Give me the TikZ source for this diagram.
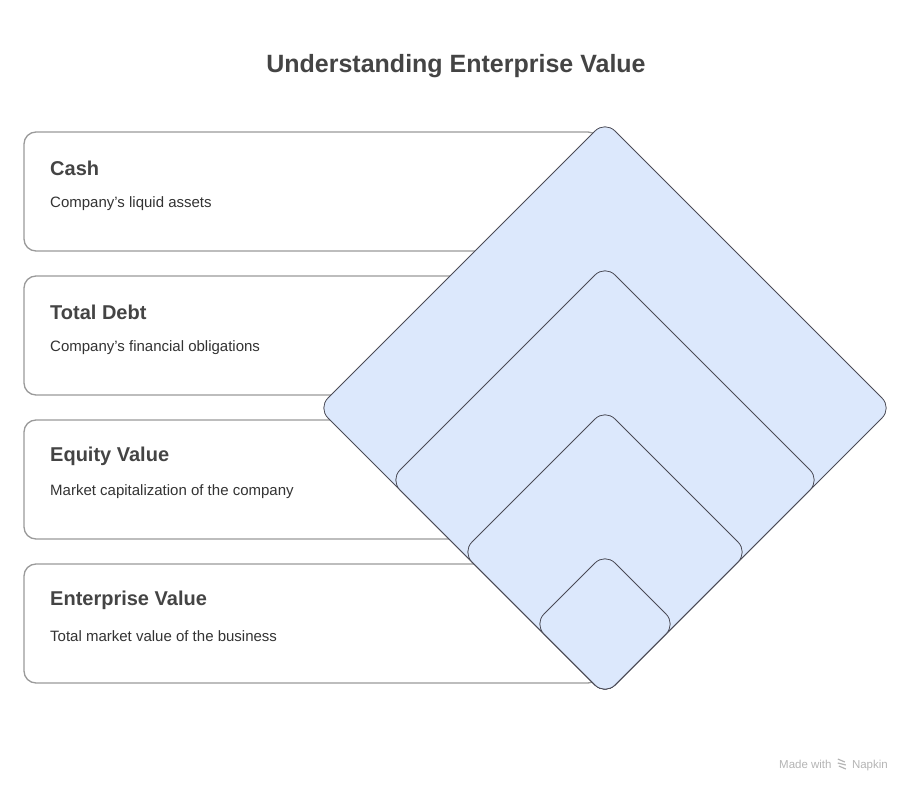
\documentclass[tikz,border=0pt]{standalone}
\usepackage{fontspec}
\setmainfont{Liberation Sans}
\usetikzlibrary{positioning}

\definecolor{inkdark}{HTML}{444444}
\definecolor{inktext}{HTML}{333333}
\definecolor{cardline}{HTML}{9A9A9A}
\definecolor{layerfill}{HTML}{DCE8FC}
\definecolor{layerline}{HTML}{4A4A55}
\definecolor{markgray}{HTML}{B4B4B4}

\tikzset{
  card/.style={draw=cardline, line width=1.3pt, rounded corners=12pt, fill=white,
    minimum width=576pt, minimum height=119pt, inner sep=0pt},
  cardhead/.style={anchor=west, inner sep=0pt, text=inkdark,
    font=\bfseries\fontsize{20}{24}\selectfont},
  carddesc/.style={anchor=west, inner sep=0pt, text=inktext,
    font=\fontsize{15}{18}\selectfont},
  layer/.style={draw=layerline, line width=0.8pt, fill=layerfill, rounded corners=14pt},
  watermark/.style={text=markgray, font=\fontsize{11.5}{13}\selectfont, anchor=base east, inner sep=0pt}
}

\begin{document}
\begin{tikzpicture}[x=1pt, y=-1pt]
                \useasboundingbox (0, 0) rectangle (914, 792);

                % --------
                % Title
                % --------
                \node[text=inkdark, font=\bfseries\fontsize{25}{30}\selectfont] at (456, 66) (title) {Understanding Enterprise Value};

                % --------
                % Cards
                % --------
                \node[card] at (312, 191.5) (cash) {};
                \node[cardhead] at (50, 168) (cashHead) {Cash};
                \node[carddesc] at (50, 204) (cashDesc) {Company's liquid assets};

                \node[card] at (312, 335.5) (debt) {};
                \node[cardhead] at (50, 312) (debtHead) {Total Debt};
                \node[carddesc] at (50, 348) (debtDesc) {Company's financial obligations};

                \node[card] at (312, 479.5) (equity) {};
                \node[cardhead] at (50, 456) (equityHead) {Equity Value};
                \node[carddesc] at (50, 492) (equityDesc) {Market capitalization of the company};

                \node[card] at (312, 623.5) (ev) {};
                \node[cardhead] at (50, 600) (evHead) {Enterprise Value};
                \node[carddesc] at (50, 636) (evDesc) {Total market value of the business};

                % --------
                % Nested layers
                % --------
                \coordinate (base) at (605, 695);

                \draw[layer] ([shift={(143, -143)}]base) -- ([shift={(287, -287)}]base) -- ([shift={(0, -574)}]base)
                    -- ([shift={(-287, -287)}]base) -- (base) -- cycle;
                \draw[layer] ([shift={(107, -107)}]base) -- ([shift={(215, -215)}]base) -- ([shift={(0, -430)}]base)
                    -- ([shift={(-215, -215)}]base) -- (base) -- cycle;
                \draw[layer] ([shift={(71, -71)}]base) -- ([shift={(143, -143)}]base) -- ([shift={(0, -286)}]base)
                    -- ([shift={(-143, -143)}]base) -- (base) -- cycle;
                \draw[layer] ([shift={(35, -35)}]base) -- ([shift={(71, -71)}]base) -- ([shift={(0, -142)}]base)
                    -- ([shift={(-71, -71)}]base) -- (base) -- cycle;

                % Watermark
                \node[watermark] at (888, 768) (napkin) {Napkin};
                \coordinate (napkinIcon) at ([shift={(-10pt, 4pt)}]napkin.base west);
                \draw[markgray, line width=1.2pt] ([shift={(-4,-5)}]napkinIcon) -- ([shift={(3,-2)}]napkinIcon);
                \draw[markgray, line width=1.2pt] ([shift={(-4,-1)}]napkinIcon) -- ([shift={(4,1)}]napkinIcon);
                \draw[markgray, line width=1.2pt] ([shift={(-3,2)}]napkinIcon) -- ([shift={(4,5)}]napkinIcon);
                \node[watermark] at ([xshift=-20pt]napkin.base west) (madeWith) {Made with};
\end{tikzpicture}
\end{document}
